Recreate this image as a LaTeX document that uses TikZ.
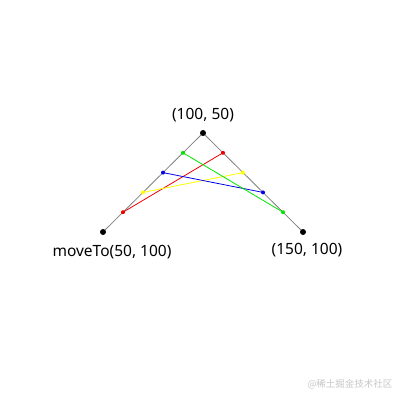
\documentclass[tikz,border=0pt]{standalone}
\usepackage{fontspec}
\setmainfont{Noto Sans}
\newfontfamily\cjk{Noto Sans CJK SC}
\usetikzlibrary{calc}

\definecolor{ptyellow}{RGB}{255,255,0}
\definecolor{ptgreen}{RGB}{0,230,0}
\definecolor{ptblue}{RGB}{0,0,230}
\definecolor{ptred}{RGB}{240,0,0}

\begin{document}
\begin{tikzpicture}[x=1pt, y=-1pt,
  ctrl/.style={circle, fill=black, inner sep=0pt, minimum size=6pt},
  lerp/.style={circle, fill=#1, inner sep=0pt, minimum size=4pt},
  hull/.style={gray, line width=0.8pt},
  label/.style={font=\fontsize{15.5}{18}\selectfont}]
\useasboundingbox (0,0) rectangle (400,400);

% control points
\coordinate (P0) at (103,232);
\coordinate (P1) at (203,133);
\coordinate (P2) at (303,232);

\draw[hull] (P0) -- (P1) -- (P2);

% construction lines at t = 0.2 ... 0.8
\foreach \t/\c in {2/ptred, 4/ptyellow, 6/ptblue, 8/ptgreen} {
  \coordinate (A\t) at ($(P0)!0.\t!(P1)$);
  \coordinate (B\t) at ($(P1)!0.\t!(P2)$);
  \draw[\c, line width=0.8pt] (A\t) -- (B\t);
  \node[lerp=\c] (a\t) at (A\t) {};
  \node[lerp=\c] (b\t) at (B\t) {};
}

\node[ctrl] (p0) at (P0) {};
\node[ctrl] (p1) at (P1) {};
\node[ctrl] (p2) at (P2) {};

\node[label] (l1) at (203,115) {(100, 50)};
\node[label] (l0) at (112,252) {moveTo(50, 100)};
\node[label] (l2) at (307,250) {(150, 100)};

\node[font=\cjk\fontsize{9.5}{11}\selectfont, text=gray!45] (mark) at (350,384) {@稀土掘金技术社区};
\end{tikzpicture}
\end{document}
